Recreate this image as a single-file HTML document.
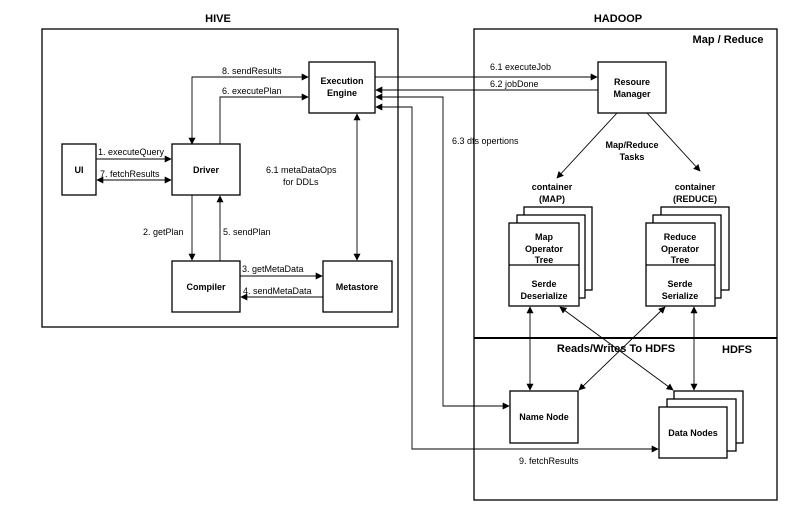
<!DOCTYPE html>
<html><head><meta charset="utf-8"><style>
html,body{margin:0;padding:0;background:#fff;}
svg{display:block;font-family:"Liberation Sans",Arial,sans-serif;}
</style></head><body>
<svg width="800" height="515" viewBox="0 0 800 515" xmlns="http://www.w3.org/2000/svg">
<defs>
<marker id="a" viewBox="0 0 10 10" refX="9" refY="5" markerWidth="7" markerHeight="7" orient="auto-start-reverse" markerUnits="userSpaceOnUse"><path d="M0,0 L10,5 L0,10 z" fill="#000"/></marker>
</defs>
<g fill="none" stroke="#000" stroke-width="1.3">
<rect x="42" y="29" width="356" height="298"/>
<rect x="474" y="29" width="303" height="471"/>
<line x1="474" y1="338" x2="777" y2="338" stroke-width="2"/>
<rect x="309" y="62" width="66" height="51" fill="#fff"/>
<rect x="172" y="144" width="68" height="51"/>
<rect x="62" y="144" width="34" height="51"/>
<rect x="172" y="261" width="68" height="51"/>
<rect x="323" y="261" width="69" height="51"/>
<rect x="598" y="62" width="68" height="51"/>
<rect x="524" y="207" width="68" height="83" fill="#fff"/>
<rect x="517" y="215" width="68" height="83" fill="#fff"/>
<rect x="509" y="223" width="70" height="83" fill="#fff"/>
<line x1="509" y1="265" x2="579" y2="265"/>
<rect x="661" y="207" width="68" height="83" fill="#fff"/>
<rect x="653" y="215" width="68" height="83" fill="#fff"/>
<rect x="646" y="223" width="69" height="83" fill="#fff"/>
<line x1="646" y1="265" x2="715" y2="265"/>
<rect x="510" y="391" width="68" height="52"/>
<rect x="674" y="391" width="69" height="52" fill="#fff"/>
<rect x="667" y="399" width="69" height="52" fill="#fff"/>
<rect x="659" y="407" width="68" height="51" fill="#fff"/>
</g>
<g fill="none" stroke="#000" stroke-width="0.9">
<polyline points="192,144 192,77 308,77" marker-start="url(#a)" marker-end="url(#a)"/>
<polyline points="220,144 220,97 308,97" marker-end="url(#a)"/>
<line x1="96" y1="159" x2="171" y2="159" marker-end="url(#a)"/>
<line x1="97" y1="180" x2="171" y2="180" marker-start="url(#a)" marker-end="url(#a)"/>
<line x1="192" y1="195" x2="192" y2="260" marker-end="url(#a)"/>
<line x1="220" y1="261" x2="220" y2="196" marker-end="url(#a)"/>
<line x1="240" y1="276" x2="322" y2="276" marker-end="url(#a)"/>
<line x1="323" y1="297" x2="241" y2="297" marker-end="url(#a)"/>
<line x1="357" y1="114" x2="357" y2="260" marker-start="url(#a)" marker-end="url(#a)"/>
<line x1="375" y1="77" x2="597" y2="77" marker-end="url(#a)"/>
<line x1="598" y1="90" x2="376" y2="90" marker-end="url(#a)"/>
<polyline points="509,406 443,406 443,97 376,97" marker-start="url(#a)" marker-end="url(#a)"/>
<polyline points="658,449 412,449 412,107 376,107" marker-start="url(#a)" marker-end="url(#a)"/>
<line x1="617" y1="113" x2="557" y2="178" marker-end="url(#a)"/>
<line x1="647" y1="113" x2="700" y2="171" marker-end="url(#a)"/>
<line x1="530" y1="307" x2="530" y2="390" marker-start="url(#a)" marker-end="url(#a)"/>
<line x1="694" y1="307" x2="694" y2="390" marker-start="url(#a)" marker-end="url(#a)"/>
<line x1="560" y1="307" x2="673" y2="390" marker-start="url(#a)" marker-end="url(#a)"/>
<line x1="665" y1="307" x2="579" y2="390" marker-start="url(#a)" marker-end="url(#a)"/>
</g>
<g font-size="11" font-weight="bold" text-anchor="middle" fill="#000">
<text x="218" y="22">HIVE</text>
<text x="618" y="22">HADOOP</text>
<text x="728" y="43">Map / Reduce</text>
<text x="616" y="352">Reads/Writes To HDFS</text>
<text x="737" y="353">HDFS</text>
</g>
<g font-size="9" font-weight="bold" text-anchor="middle" fill="#000">
<text x="342" y="84">Execution</text><text x="342" y="96">Engine</text>
<text x="206" y="173">Driver</text>
<text x="79" y="173">UI</text>
<text x="206" y="290">Compiler</text>
<text x="357" y="290">Metastore</text>
<text x="632" y="85">Resoure</text><text x="632" y="97">Manager</text>
<text x="632" y="148">Map/Reduce</text><text x="632" y="160">Tasks</text>
<text x="552" y="190">container</text><text x="552" y="202">(MAP)</text>
<text x="695" y="190">container</text><text x="695" y="202">(REDUCE)</text>
<text x="544" y="240">Map</text><text x="544" y="252">Operator</text><text x="544" y="263">Tree</text>
<text x="680" y="240">Reduce</text><text x="680" y="252">Operator</text><text x="680" y="263">Tree</text>
<text x="544" y="287">Serde</text><text x="544" y="299">Deserialize</text>
<text x="680" y="287">Serde</text><text x="680" y="299">Serialize</text>
<text x="544" y="420">Name Node</text>
<text x="693" y="436">Data Nodes</text>
</g>
<g font-size="9" fill="#000">
<text x="222" y="74">8. sendResults</text>
<text x="222" y="94">6. executePlan</text>
<text x="98" y="155">1. executeQuery</text>
<text x="100" y="177">7. fetchResults</text>
<text x="143" y="235">2. getPlan</text>
<text x="223" y="235">5. sendPlan</text>
<text x="242" y="272">3. getMetaData</text>
<text x="243" y="294">4. sendMetaData</text>
<text x="266" y="173">6.1 metaDataOps</text>
<text x="283" y="185">for DDLs</text>
<text x="490" y="70">6.1 executeJob</text>
<text x="490" y="87">6.2 jobDone</text>
<text x="452" y="144">6.3 dfs opertions</text>
<text x="519" y="464">9. fetchResults</text>
</g>
</svg>
</body></html>
